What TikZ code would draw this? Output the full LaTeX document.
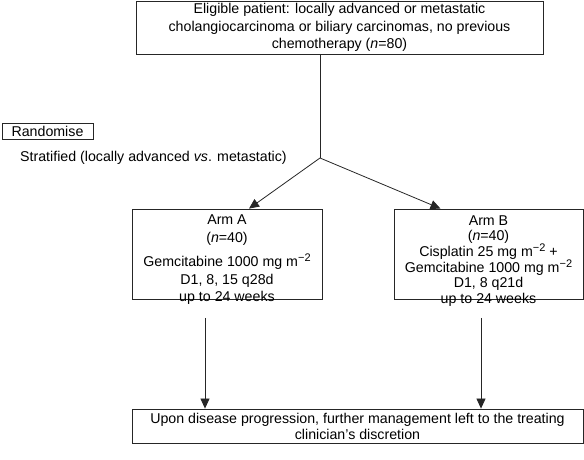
\documentclass[tikz,border=0pt]{standalone}
\usepackage{fontspec}
\setmainfont{Liberation Sans}
\usetikzlibrary{arrows.meta,calc}
\newcommand{\msq}{m\raisebox{5pt}{\fontsize{11}{11}\selectfont −2}}
\begin{document}
\begin{tikzpicture}[x=1pt,y=1pt,
  box/.style={draw=black!85,line width=0.8pt,rectangle,inner sep=0pt},
  txt/.style={align=center,font=\fontsize{14.2}{17.5}\selectfont,inner sep=0pt},
  arr/.style={draw=black!85,line width=0.8pt,-{Triangle[length=10pt,width=9pt]}},
  ln/.style={draw=black!85,line width=0.8pt}]
\useasboundingbox (0,0) rectangle (584,460);
% top box
\node[box,minimum width=407,minimum height=53] (top) at (339.5,432.5) {};
\node[txt] (toptxt) at (top.center) {Eligible patient: locally advanced or metastatic\\cholangiocarcinoma or biliary carcinomas, no previous\\chemotherapy (\textit{n}=80)};
% randomise
\node[box,minimum width=91,minimum height=16] (rand) at (47.5,328.5) {};
\node[txt] (randtxt) at (rand.center) {Randomise};
\node[txt,anchor=west] (strat) at (20,302) {Stratified (locally advanced \textit{vs}. metastatic)};
% arms
\node[box,minimum width=190,minimum height=90] (armA) at (227,206) {};
\node[txt] (armAtxt) at ($(armA.center)+(0,-6)$) {Arm A\\(\textit{n}=40)\\[7pt]Gemcitabine 1000 mg \msq\\D1, 8, 15 q28d\\up to 24 weeks};
\node[box,minimum width=189,minimum height=90] (armB) at (488.5,206) {};
\node[txt,font=\fontsize{14.2}{15.7}\selectfont] (armBtxt) at ($(armB.center)+(0,-7)$) {Arm B\\(\textit{n}=40)\\Cisplatin 25 mg \msq{} +\\Gemcitabine 1000 mg \msq\\D1, 8 q21d\\up to 24 weeks};
% bottom box
\node[box,minimum width=451,minimum height=34] (bot) at (357.5,34) {};
\node[txt,font=\fontsize{14.2}{16}\selectfont] (bottxt) at (bot.center) {Upon disease progression, further management left to the treating\\clinician’s discretion};
% connectors
\coordinate (j) at (320,302);
\coordinate (topfoot) at (320,406);
\draw[ln] (topfoot) -- (j);
\draw[arr] (j) -- ($(armA.north)+(22,0)$);
\draw[arr] (j) -- ($(armB.north)+(-48,0)$);
\coordinate (a1) at (205,142);
\coordinate (b1) at (481,142);
\draw[arr] (a1) -- (a1 |- bot.north);
\draw[arr] (b1) -- (b1 |- bot.north);
\end{tikzpicture}
\end{document}
